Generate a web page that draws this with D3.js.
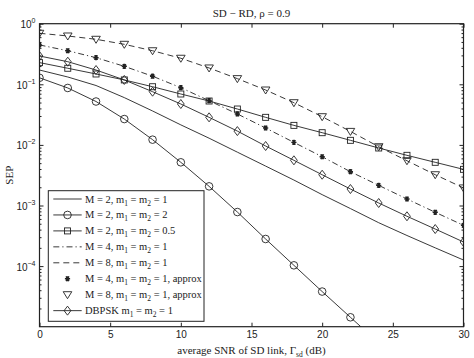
<!DOCTYPE html>
<html><head><meta charset="utf-8">
<script src="https://cdn.jsdelivr.net/npm/d3@7/dist/d3.min.js"></script>
<style>body{margin:0;background:#fff}svg{display:block}</style>
</head><body>
<script>
// ---- data ----
const snr = [0,2,4,6,8,10,12,14,16,18,20,22,24,26,28,30];
const xTicks = [0,5,10,15,20,25,30];
const yTicks = [1e-5,1e-4,1e-3,1e-2,1e-1,1];
const yTickExp = ["-5","-4","-3","-2","-1","0"];
const sepM2m1 = [0.172,0.132,0.0955,0.0603,0.0363,0.0214,0.0129,0.00759,0.00447,0.00263,0.00151,8.9e-4,5.2e-4,3.2e-4,2.0e-4,1.26e-4];
const sepM2m2 = [0.128,0.087,0.052,0.0267,0.0122,0.00516,0.00207,7.8e-4,2.8e-4,1.03e-4,3.8e-5,1.43e-5,5.4e-6];
const sepM2m05 = [0.228,0.184,0.148,0.118,0.0912,0.0692,0.0530,0.0391,0.0285,0.0210,0.0159,0.0119,0.00889,0.00673,0.00516,0.00395];
const sepM4 = [0.446,0.358,0.275,0.198,0.136,0.0879,0.0536,0.0324,0.0190,0.0110,0.00638,0.00361,0.00215,0.00128,7.73e-4,4.71e-4];
const sepM8 = [0.695,0.627,0.553,0.457,0.358,0.269,0.186,0.124,0.0805,0.0497,0.0292,0.0167,0.00933,0.00548,0.00322,0.00195];
const sepDBPSK = [0.293,0.236,0.172,0.118,0.0755,0.0473,0.0285,0.0169,0.00959,0.00557,0.00322,0.00187,0.00110,6.64e-4,4.09e-4,2.50e-4];
const legendLabels = [
  ["M = 2, m","1"," = m","2"," = 1"],
  ["M = 2, m","1"," = m","2"," = 2"],
  ["M = 2, m","1"," = m","2"," = 0.5"],
  ["M = 4, m","1"," = m","2"," = 1"],
  ["M = 8, m","1"," = m","2"," = 1"],
  ["M = 4, m","1"," = m","2"," = 1, approx"],
  ["M = 8, m","1"," = m","2"," = 1, approx"],
  ["DBPSK m","1"," = m","2"," = 1"]
];

const W=474,H=358;
const m={l:39.5,r:10.5,t:23.7,b:31.3};
const svg=d3.select("body").append("svg").attr("width",W).attr("height",H);
const x=d3.scaleLinear().domain([0,30]).range([m.l,W-m.r]);
const y=d3.scaleLog().domain([1e-5,1]).range([H-m.b,m.t]);
const ink="#222";
const serif="'Liberation Serif','Times New Roman',serif";
const sans="'Liberation Sans',Arial,sans-serif";

svg.append("clipPath").attr("id","pc").append("rect")
  .attr("x",m.l).attr("y",m.t).attr("width",W-m.l-m.r).attr("height",H-m.t-m.b);

// axes (ticks inward)
const minor=[];
for(let e=-5;e<0;e++) for(let k=2;k<=9;k++) minor.push(k*Math.pow(10,e));
const gx=svg.append("g").attr("transform",`translate(0,${H-m.b})`)
  .call(d3.axisBottom(x).tickValues(xTicks).tickSize(-4).tickPadding(4.5).tickFormat(d3.format("d")));
const gxt=svg.append("g").attr("transform",`translate(0,${m.t})`)
  .call(d3.axisTop(x).tickValues(xTicks).tickSize(-4).tickFormat(""));
const gy=svg.append("g").attr("transform",`translate(${m.l},0)`)
  .call(d3.axisLeft(y).tickValues(yTicks.slice(1)).tickSize(-4).tickFormat(""));
const gym=svg.append("g").attr("transform",`translate(${m.l},0)`)
  .call(d3.axisLeft(y).tickValues(minor).tickSize(-2).tickFormat(""));
const gyr=svg.append("g").attr("transform",`translate(${W-m.r},0)`)
  .call(d3.axisRight(y).tickValues(yTicks.slice(1)).tickSize(-4).tickFormat(""));
const gyrm=svg.append("g").attr("transform",`translate(${W-m.r},0)`)
  .call(d3.axisRight(y).tickValues(minor).tickSize(-2).tickFormat(""));
[gx,gxt,gy,gym,gyr,gyrm].forEach(g=>{
  g.select(".domain").remove();
  g.selectAll("line").attr("stroke",ink);
});
gx.selectAll("text").attr("font-family",sans).attr("font-size",10).attr("fill",ink);
// frame
svg.append("rect").attr("x",m.l).attr("y",m.t).attr("width",W-m.l-m.r).attr("height",H-m.t-m.b)
  .attr("fill","none").attr("stroke",ink).attr("stroke-width",1.2);

// y tick labels with exponents
yTicks.slice(1).forEach((v,i)=>{
  const t=svg.append("text").attr("x",m.l-4).attr("y",y(v)+4.5).attr("text-anchor","end")
    .attr("font-family",sans).attr("font-size",10).attr("fill",ink);
  t.append("tspan").text("10");
  t.append("tspan").attr("dy",-5).attr("font-size",7).text(yTickExp[i+1].replace("-","\u2212"));
});

// series
const series=[
  {v:sepM2m1,dash:null,mk:null},
  {v:sepM2m2,dash:null,mk:"circle"},
  {v:sepM2m05,dash:null,mk:"square"},
  {v:sepM4,dash:"6,3,1.2,3",mk:null},
  {v:sepM8,dash:"6,4",mk:null},
  {v:sepM4,dash:null,mk:"star",noline:true},
  {v:sepM8,dash:null,mk:"tri",noline:true},
  {v:sepDBPSK,dash:null,mk:"diamond"}
];
const line=d3.line().x(d=>x(d[0])).y(d=>y(d[1]));
const plot=svg.append("g").attr("clip-path","url(#pc)");
function marker(g,type,cx,cy){
  const s={fill:"none",stroke:ink,"stroke-width":0.9};
  let el;
  if(type==="circle") el=g.append("circle").attr("cx",cx).attr("cy",cy).attr("r",3.8);
  else if(type==="square") el=g.append("rect").attr("x",cx-3).attr("y",cy-3).attr("width",6).attr("height",6);
  else if(type==="diamond") el=g.append("path").attr("d",`M${cx},${cy-4.5}L${cx+3.4},${cy}L${cx},${cy+4.5}L${cx-3.4},${cy}Z`);
  else if(type==="tri") el=g.append("path").attr("d",`M${cx-4.3},${cy-3}L${cx+4.3},${cy-3}L${cx},${cy+4}Z`);
  else if(type==="star"){
    el=g.append("path").attr("d",`M${cx-2.6},${cy}H${cx+2.6}M${cx-1.5},${cy-2.3}L${cx+1.5},${cy+2.3}M${cx+1.5},${cy-2.3}L${cx-1.5},${cy+2.3}M${cx},${cy-2.6}V${cy+2.6}`);
    s["stroke-width"]=1.4;
  }
  Object.entries(s).forEach(([k,v])=>el.attr(k,v));
}
series.forEach(s=>{
  const pts=s.v.map((v,i)=>[snr[i],v]);
  if(!s.noline){
    plot.append("path").datum(pts).attr("d",line).attr("fill","none")
      .attr("stroke",ink).attr("stroke-width",0.9).attr("stroke-dasharray",s.dash);
  }
  if(s.mk) pts.forEach(p=>{ if(p[1]>=1e-5) marker(plot,s.mk,x(p[0]),y(p[1])); });
});

// legend
const lg=svg.append("g");
lg.append("rect").attr("x",48.3).attr("y",190.7).attr("width",155.7).attr("height",130.6)
  .attr("fill","#fff").attr("stroke",ink).attr("stroke-width",1);
legendLabels.forEach((lab,i)=>{
  const yy=199+i*15.95;
  const s=series[i];
  if(!s.noline) lg.append("line").attr("x1",53.3).attr("x2",81.7).attr("y1",yy).attr("y2",yy)
    .attr("stroke",ink).attr("stroke-width",0.9).attr("stroke-dasharray",s.dash);
  if(s.mk) marker(lg,s.mk,67.5,yy);
  const t=lg.append("text").attr("x",85).attr("y",yy+3.5).attr("font-family",serif)
    .attr("font-size",10.5).attr("fill",ink);
  t.append("tspan").text(lab[0]);
  t.append("tspan").attr("dy",3).attr("font-size",7.5).text(lab[1]);
  t.append("tspan").attr("dy",-3).text(lab[2]);
  t.append("tspan").attr("dy",3).attr("font-size",7.5).text(lab[3]);
  t.append("tspan").attr("dy",-3).text(lab[4]);
});

// title & labels
svg.append("text").attr("x",(m.l+W-m.r)/2).attr("y",17).attr("text-anchor","middle")
  .attr("font-family",serif).attr("font-size",11).attr("fill",ink).text("SD \u2212 RD, \u03c1 = 0.9");
const xl=svg.append("text").attr("x",(m.l+W-m.r)/2).attr("y",353.5).attr("text-anchor","middle")
  .attr("font-family",serif).attr("font-size",11).attr("fill",ink);
xl.append("tspan").text("average SNR of SD link, \u0393");
xl.append("tspan").attr("dy",3).attr("font-size",7.5).text("sd");
xl.append("tspan").attr("dy",-3).text(" (dB)");
svg.append("text").attr("transform",`translate(13,${(m.t+H-m.b)/2}) rotate(-90)`)
  .attr("text-anchor","middle").attr("font-family",serif).attr("font-size",11).attr("fill",ink).text("SEP");
</script>
</body></html>
